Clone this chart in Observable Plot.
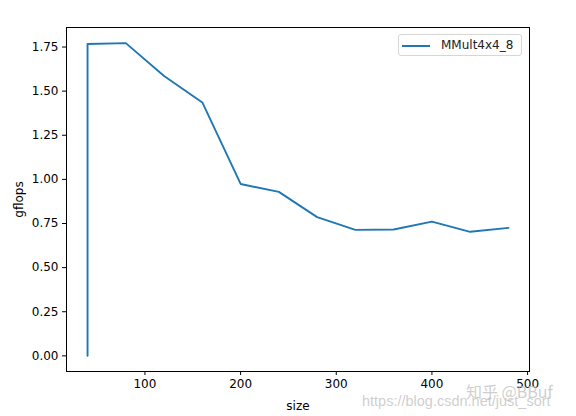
<!DOCTYPE html>
<html>
<head>
<meta charset="utf-8">
<script src="https://cdn.jsdelivr.net/npm/d3@7"></script>
<script src="https://cdn.jsdelivr.net/npm/@observablehq/plot@0.6"></script>
<style>
  html, body { margin: 0; padding: 0; background: white; }
  #wrap { position: relative; width: 576px; height: 416px; font-family: "DejaVu Sans", sans-serif; overflow: hidden; }
  #legend { position: absolute; left: 398px; top: 34px; width: 124px; height: 22px; box-sizing: border-box;
            border: 1px solid #d6d6d6; border-radius: 3px; background: rgba(255,255,255,0.8); font-size: 12px; }
  #legend .swatch { position: absolute; left: 3px; top: 9.5px; width: 28px; height: 0; border-top: 2px solid #1f77b4; }
  #legend .lab { position: absolute; left: 42px; top: 3px; color: #222; white-space: nowrap; }
  .wm { position: absolute; color: rgba(190,190,190,0.75); white-space: nowrap; pointer-events: none; }
</style>
</head>
<body>
<div id="wrap"></div>
<script>
const sizes  = [40, 40, 80, 120, 160, 200, 240, 280, 320, 360, 400, 440, 480];
const gflops = [0.0, 1.767, 1.772, 1.586, 1.436, 0.974, 0.929, 0.786, 0.714, 0.716, 0.761, 0.703, 0.725];
const xTicks = [100, 200, 300, 400, 500];
const yTicks = [0, 0.25, 0.5, 0.75, 1.0, 1.25, 1.5, 1.75];
const seriesName = "MMult4x4_8";
const xLabel = "size";
const yLabel = "gflops";

const data = sizes.map((s, i) => ({size: s, gflops: gflops[i]}));

function padded(vals) {
  const lo = d3.min(vals), hi = d3.max(vals), m = (hi - lo) * 0.05;
  return [lo - m, hi + m];
}

const chart = Plot.plot({
  width: 576,
  height: 416,
  marginLeft: 66,
  marginRight: 47,
  marginTop: 27,
  marginBottom: 45,
  style: {fontFamily: "DejaVu Sans, sans-serif", fontSize: "12px", background: "white", color: "black"},
  x: {domain: padded(sizes), ticks: xTicks, tickFormat: d3.format("d"), tickSize: 4, tickPadding: 4,
      label: xLabel, labelAnchor: "center", labelArrow: "none", labelOffset: 38},
  y: {domain: padded(gflops), ticks: yTicks, tickFormat: d3.format(".2f"), tickSize: 4, tickPadding: 4,
      label: yLabel, labelAnchor: "center", labelArrow: "none", labelOffset: 52},
  marks: [
    Plot.line(data, {x: "size", y: "gflops", stroke: "#1f77b4", strokeWidth: 1.9}),
    Plot.frame({stroke: "black", strokeWidth: 1})
  ]
});

const wrap = document.getElementById("wrap");
wrap.appendChild(chart);

const legend = document.createElement("div");
legend.id = "legend";
legend.innerHTML = '<div class="swatch"></div><div class="lab"></div>';
legend.querySelector(".lab").textContent = seriesName;
wrap.appendChild(legend);

const wm1 = document.createElement("div");
wm1.className = "wm";
wm1.style.cssText = "left:466px; top:379px; font-size:16px; font-family:'Noto Sans CJK SC', sans-serif;";
wm1.textContent = "知乎 @BBuf";
wrap.appendChild(wm1);

const wm2 = document.createElement("div");
wm2.className = "wm";
wm2.style.cssText = "left:362px; top:393px; font-size:14.5px; font-family:'Liberation Sans', sans-serif;";
wm2.textContent = "https://blog.csdn.net/just_sort";
wrap.appendChild(wm2);
</script>
</body>
</html>
